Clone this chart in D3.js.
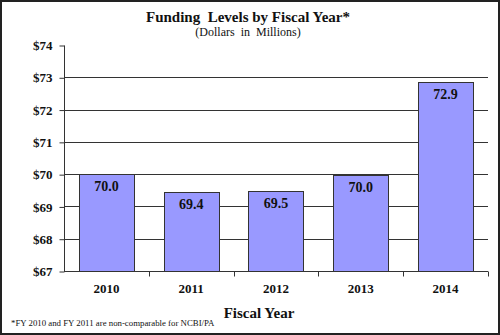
<!DOCTYPE html>
<html><head><meta charset="utf-8">
<script src="https://cdn.jsdelivr.net/npm/d3@7"></script>
<style>
html,body{margin:0;padding:0;background:#fff;}
svg{display:block;font-family:"Liberation Serif","Times New Roman",serif;}
</style></head>
<body>
<svg id="c" width="500" height="335"></svg>
<script>
const years = ["2010", "2011", "2012", "2013", "2014"];
const values = [70.0, 69.44, 69.48, 69.97, 72.86];
const valueLabels = ["70.0", "69.4", "69.5", "70.0", "72.9"];
const yTicks = [67, 68, 69, 70, 71, 72, 73, 74];

const svg = d3.select("#c");
const W = 500, H = 335;
const m = {left: 64, right: 488, top: 45, bottom: 271};

svg.append("rect").attr("x", 1).attr("y", 1).attr("width", W - 2).attr("height", H - 2)
  .attr("fill", "#fff").attr("stroke", "#222").attr("stroke-width", 2);

const x = d3.scaleBand().domain(years).range([m.left, m.right]).paddingInner(0.35).paddingOuter(0.175);
const y = d3.scaleLinear().domain([67, 74]).range([m.bottom, m.top]);

// gridlines
svg.append("g").selectAll("line").data(yTicks.filter(t => t > 67 && t < 74)).join("line")
  .attr("x1", m.left).attr("x2", m.right)
  .attr("y1", d => Math.round(y(d)) + 0.5).attr("y2", d => Math.round(y(d)) + 0.5)
  .attr("stroke", "#333").attr("stroke-width", 1);

// bars
svg.append("g").selectAll("rect").data(years).join("rect")
  .attr("x", d => Math.round(x(d)) + 0.5)
  .attr("y", (d, i) => Math.round(y(values[i])) + 0.5)
  .attr("width", Math.round(x.bandwidth()))
  .attr("height", (d, i) => Math.round(y(67)) - Math.round(y(values[i])))
  .attr("fill", "#9999ff").attr("stroke", "#333").attr("stroke-width", 1);

// value labels
svg.append("g").selectAll("text").data(years).join("text")
  .attr("x", d => x(d) + x.bandwidth() / 2)
  .attr("y", (d, i) => y(values[i]) + 17)
  .attr("text-anchor", "middle").attr("font-weight", "bold").attr("font-size", 14)
  .attr("font-family", "Liberation Serif")
  .attr("fill", "#111").text((d, i) => valueLabels[i]);

// y axis
const yAxis = d3.axisLeft(y).tickValues(yTicks).tickSize(5).tickPadding(7).tickFormat(d => "$" + d);
const gy = svg.append("g").attr("transform", `translate(${m.left + 0.5},0.5)`).call(yAxis)
  .attr("font-family", "Liberation Serif");
gy.select(".domain").attr("stroke", "#333").attr("d", `M-0,${y(74)}V${y(67)}`);
gy.selectAll(".tick line").attr("stroke", "#333");
gy.selectAll(".tick text").attr("font-family", "Liberation Serif").attr("font-size", 13)
  .attr("font-weight", "bold").attr("fill", "#111");

// x axis
const gx = svg.append("g").attr("transform", `translate(0,${Math.round(y(67)) + 0.5})`);
gx.append("line").attr("x1", m.left).attr("x2", m.right).attr("stroke", "#333");
const bounds = years.map(d => x(d) + x.bandwidth() + x.step() * x.paddingInner() / 2);
gx.selectAll("line.t").data(bounds).join("line").attr("class", "t")
  .attr("x1", d => Math.round(d) + 0.5).attr("x2", d => Math.round(d) + 0.5)
  .attr("y1", 0).attr("y2", 5).attr("stroke", "#333");
gx.selectAll("text").data(years).join("text")
  .attr("x", d => x(d) + x.bandwidth() / 2).attr("y", 21)
  .attr("text-anchor", "middle").attr("font-weight", "bold").attr("font-size", 13)
  .attr("fill", "#111").text(d => d);

// titles
svg.append("text").attr("x", 248).attr("y", 22).attr("text-anchor", "middle")
  .attr("font-weight", "bold").attr("font-size", 15).attr("fill", "#111")
  .style("white-space", "pre").text("Funding  Levels by Fiscal Year*");
svg.append("text").attr("x", 248).attr("y", 36).attr("text-anchor", "middle")
  .attr("font-size", 12).attr("fill", "#111").style("white-space", "pre").text("(Dollars  in  Millions)");
svg.append("text").attr("x", 259).attr("y", 318).attr("text-anchor", "middle")
  .attr("font-weight", "bold").attr("font-size", 15).attr("fill", "#111").text("Fiscal Year");
svg.append("text").attr("x", 11).attr("y", 325.5)
  .attr("font-size", 8.8).attr("fill", "#111").text("*FY 2010 and FY 2011 are non-comparable for NCBI/PA");
</script>
</body></html>
